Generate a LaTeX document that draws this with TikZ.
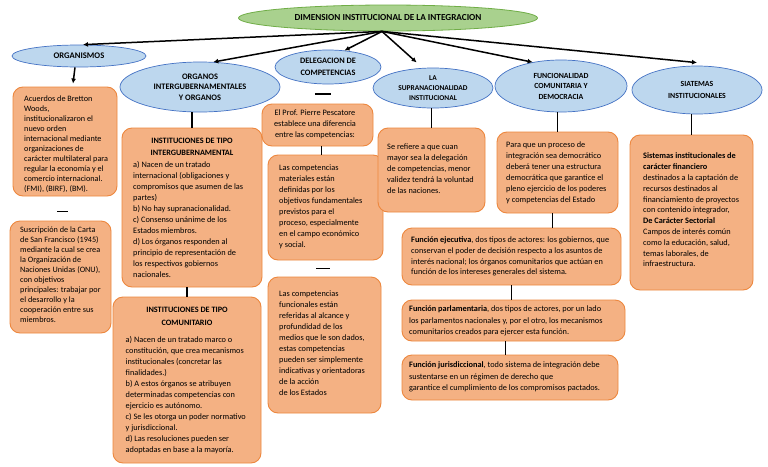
\documentclass[tikz,border=0pt]{standalone}
\usepackage{fontspec}
\setmainfont{Carlito}
\usetikzlibrary{shapes.geometric,arrows.meta,calc}
\definecolor{cardfill}{RGB}{244,177,131}
\definecolor{cardline}{RGB}{237,135,62}
\definecolor{ellfill}{RGB}{189,215,238}
\definecolor{ellline}{RGB}{68,114,196}
\definecolor{titfill}{RGB}{169,209,142}
\definecolor{titline}{RGB}{112,173,71}
\begin{document}
\begin{tikzpicture}[x=1pt,y=-1pt,
 card/.style={draw=cardline, fill=cardfill, rounded corners=10pt, line width=0.9pt, inner sep=0pt},
 oval/.style={ellipse, draw=ellline, fill=ellfill, line width=0.7pt, inner sep=0pt, align=center, font=\fontsize{7.8}{10.5}\selectfont\bfseries},
 body/.style={inner sep=0pt, anchor=north west, align=left, font=\fontsize{8.3}{11}\selectfont},
 smallbody/.style={body, font=\fontsize{8.2}{10}\selectfont},
 head/.style={inner sep=0pt, anchor=north, align=center, font=\fontsize{8.2}{12}\selectfont\bfseries},
 arr/.style={line width=1.5pt, -{Latex[length=5pt,width=5pt]}},
 link/.style={line width=1.5pt},
]
\useasboundingbox (0,0) rectangle (768,466);
\fill[white] (0,0) rectangle (768,466);

% title and ellipses
\node[ellipse, draw=titline, fill=titfill, line width=0.8pt, inner sep=0pt,
      minimum width=299pt, minimum height=26pt,
      font=\fontsize{9.2}{10}\selectfont\bfseries] (title) at (388,18)
      {DIMENSION INSTITUCIONAL DE LA INTEGRACION};
\node[oval, minimum width=134pt, minimum height=22pt, font=\fontsize{8.6}{10.5}\selectfont\bfseries] (organismos) at (79,56) {ORGANISMOS};
\node[oval, minimum width=160pt, minimum height=50pt, font=\fontsize{8.4}{10.7}\selectfont\bfseries] (organos) at (200,87) {ORGANOS\\INTERGUBERNAMENTALES\\Y ORGANOS};
\node[oval, minimum width=106pt, minimum height=34pt, font=\fontsize{8.3}{11.5}\selectfont\bfseries] (delegacion) at (328,67) {DELEGACION DE\\COMPETENCIAS};
\node[oval, minimum width=120pt, minimum height=40pt, font=\fontsize{7.4}{10}\selectfont\bfseries] (supranac) at (433,88) {LA\\SUPRANACIONALIDAD\\INSTITUCIONAL};
\node[oval, minimum width=132pt, minimum height=52pt] (funcionalidad) at (561,86) {FUNCIONALIDAD\\COMUNITARIA Y\\DEMOCRACIA};
\node[oval, minimum width=130pt, minimum height=48pt, font=\fontsize{7.8}{12}\selectfont\bfseries] (siatemas) at (697,90) {SIATEMAS\\INSTITUCIONALES};

% cards
\node[card, minimum width=104pt, minimum height=109pt] (acuerdos) at (65,141.5) {};
\node[card, minimum width=101pt, minimum height=112pt] (suscrip) at (60.5,277) {};
\node[card, minimum width=140pt, minimum height=159pt] (interg) at (192,207.5) {};
\node[card, minimum width=148pt, minimum height=166pt] (comunit) at (187,380) {};
\node[card, minimum width=111pt, minimum height=42pt] (pescatore) at (317.5,125) {};
\node[card, minimum width=115pt, minimum height=105pt] (materiales) at (325.5,207.5) {};
\node[card, minimum width=113pt, minimum height=136pt] (funcionales) at (324.5,345) {};
\node[card, minimum width=107pt, minimum height=84pt] (supbox) at (431.5,170) {};
\node[card, minimum width=121pt, minimum height=81pt] (funcbox) at (557.5,172.5) {};
\node[card, minimum width=219pt, minimum height=57pt] (ejecutiva) at (511.5,256.5) {};
\node[card, minimum width=223pt, minimum height=41pt] (parlam) at (513.5,320.5) {};
\node[card, minimum width=216pt, minimum height=45pt] (juris) at (510,377.5) {};
\node[card, minimum width=123pt, minimum height=155pt] (sisbox) at (691.5,212.5) {};

% texts
\node[smallbody] (acuerdostxt) at (24,95.8) {Acuerdos de Bretton\\Woods,\\institucionalizaron el\\nuevo orden\\internacional mediante\\organizaciones de\\carácter multilateral para\\regular la economía y el\\comercio internacional.\\(FMI), (BIRF), (BM).};
\node[smallbody] (suscriptxt) at (20,226.8) {Suscripción de la Carta\\de San Francisco (1945)\\mediante la cual se crea\\la Organización de\\Naciones Unidas (ONU),\\con objetivos\\principales: trabajar por\\el desarrollo y la\\cooperación entre sus\\miembros.};
\node[head] (intergh) at (192,138.3) {INSTITUCIONES DE TIPO\\INTERGUBERNAMENTAL};
\node[body] (intergtxt) at (133,160.8) {a) Nacen de un tratado\\internacional (obligaciones y\\compromisos que asumen de las\\partes)\\b) No hay supranacionalidad.\\c) Consenso unánime de los\\Estados miembros.\\d) Los órganos responden al\\principio de representación de\\los respectivos gobiernos\\nacionales.};
\node[head, font=\fontsize{8.2}{13}\selectfont\bfseries] (comunith) at (187,307.3) {INSTITUCIONES DE TIPO\\COMUNITARIO};
\node[body] (comunittxt) at (125.5,335.8) {a) Nacen de un tratado marco o\\constitución, que crea mecanismos\\institucionales (concretar las\\finalidades.)\\b) A estos órganos se atribuyen\\determinadas competencias con\\ejercicio es autónomo.\\c) Se les otorga un poder normativo\\y jurisdiccional.\\d) Las resoluciones pueden ser\\adoptadas en base a la mayoría.};
\node[body, anchor=north, align=center] (pescatoretxt) at (315,109.8) {El Prof. Pierre Pescatore\\establece una diferencia\\entre las competencias:};
\node[body] (materialestxt) at (279,164.8) {Las competencias\\materiales están\\definidas por los\\objetivos fundamentales\\previstos para el\\proceso, especialmente\\en el campo económico\\y social.};
\node[body] (funcionalestxt) at (279,290.8) {Las competencias\\funcionales están\\referidas al alcance y\\profundidad de los\\medios que le son dados,\\estas competencias\\pueden ser simplemente\\indicativas y orientadoras\\de la acción\\de los Estados};
\node[body] (suptxt) at (387,143.8) {Se refiere a que cuan\\mayor sea la delegación\\de competencias, menor\\validez tendrá la voluntad\\de las naciones.};
\node[body] (functxt) at (506,141.8) {Para que un proceso de\\integración sea democrático\\deberá tener una estructura\\democrática que garantice el\\pleno ejercicio de los poderes\\y competencias del Estado};
\node[body, font=\fontsize{8.3}{10.7}\selectfont] (ejecutivatxt) at (411,236.8) {\textbf{Función ejecutiva}, dos tipos de actores: los gobiernos, que\\conservan el poder de decisión respecto a los asuntos de\\interés nacional; los órganos comunitarios que actúan en\\función de los intereses generales del sistema.};
\node[body, font=\fontsize{8.3}{11.5}\selectfont] (parlamtxt) at (409,305.8) {\textbf{Función parlamentaria}, dos tipos de actores, por un lado\\los parlamentos nacionales y, por el otro, los mecanismos\\comunitarios creados para ejercer esta función.};
\node[body, font=\fontsize{8.3}{11.5}\selectfont] (juristxt) at (409,361.8) {\textbf{Función jurisdiccional}, todo sistema de integración debe\\sustentarse en un régimen de derecho que\\garantice el cumplimiento de los compromisos pactados.};
\node[body, font=\fontsize{8.3}{10.8}\selectfont] (sistxt) at (643,152.8) {\textbf{Sistemas institucionales de}\\\textbf{carácter financiero}\\destinados a la captación de\\recursos destinados al\\financiamiento de proyectos\\con contenido integrador,\\\textbf{De Carácter Sectorial}\\Campos de interés común\\como la educación, salud,\\temas laborales, de\\infraestructura.};

% connectors from the title
\coordinate (hub) at ([xshift=-6pt]title.south);
\draw[arr] (hub) -- ([xshift=4pt]organismos.north);
\draw[arr] (hub) -- (organos.62);
\draw[arr] (hub) -- (delegacion.45);
\draw[arr] (hub) -- ([yshift=6pt]supranac.130);
\draw[arr] (hub) -- (funcionalidad.140);
\draw[arr] (hub) -- ([yshift=3pt]siatemas.north);

% other connectors
\draw[arr] ([xshift=-4pt]organismos.south) -- ([xshift=8pt,yshift=3pt]acuerdos.north);
\draw[link] ($(acuerdos.south)!.5!(suscrip.north)$) ++(-5.5,3) -- ++(11,0);
\draw[link] (interg.north) -- (interg.north |- organos.south);
\draw[link] (comunit.north) -- (comunit.north |- interg.south);
\draw[link] ($(delegacion.south)!.5!(pescatore.north)$) ++(-8,0) -- ++(16,0);
\path ($(pescatore.south)!.5!(materiales.north)$) coordinate (pm);
\draw[link] (pm |- pescatore.south) -- (pm |- materiales.north);
\draw[link] ($(materiales.south)!.5!(funcionales.north)$) ++(-9,0) -- ++(14,0);
\draw[link] (supbox.north) -- (supbox.north |- supranac.south);
\draw[link] (funcbox.north) -- (funcbox.north |- funcionalidad.south);
\draw[link] ([xshift=-5pt]funcbox.south) -- ([xshift=-5pt]funcbox.south |- ejecutiva.north);
\draw[link] (ejecutiva.south) -- (ejecutiva.south |- parlam.north);
\draw[link] ([xshift=-8pt]parlam.south) -- ([xshift=-8pt]parlam.south |- juris.north);
\draw[link] (sisbox.north) -- (sisbox.north |- siatemas.south);
\end{tikzpicture}
\end{document}
